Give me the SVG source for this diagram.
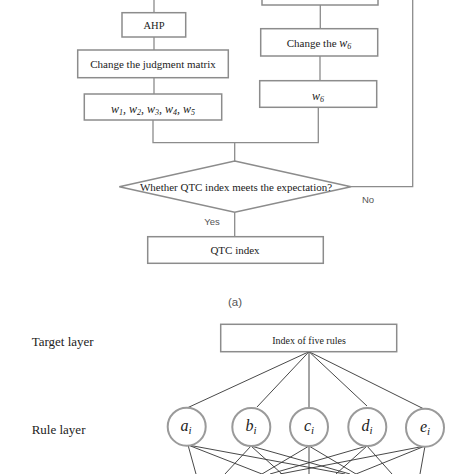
<svg xmlns="http://www.w3.org/2000/svg" width="474" height="474" viewBox="0 0 474 474">
<style>
.box{fill:#fff;stroke:#8c8c8c;stroke-width:1.5}
.fl{fill:none;stroke:#8c8c8c;stroke-width:1.3}
.lt{fill:none;stroke:#333;stroke-width:0.9}
.cir{fill:#fff;stroke:#9a9a9a;stroke-width:2}
.t{font-family:"Liberation Serif","Times New Roman",serif;fill:#222;text-anchor:middle}
.lab{font-family:"Liberation Serif","Times New Roman",serif;fill:#222;text-anchor:start;font-size:13px}
.w{font-family:"Liberation Serif","Times New Roman",serif;font-style:italic;fill:#222;text-anchor:middle}
.s{font-family:"Liberation Sans",Arial,sans-serif;fill:#555;text-anchor:middle}
.m{font-family:"Liberation Serif","Times New Roman",serif;font-style:italic;fill:#222;text-anchor:middle;font-size:16px}
</style>
<rect width="474" height="474" fill="#fff"/>
<g id="connectors">
<path class="fl" d="M154,0V12.7M154,37V50M154,77.7V94M153,120V142.7H318.3V107.3M320.3,5V28.7M320,56V80.7M234.7,142.7V161M234.7,212.3V236.7M351,186.7H412.7V0"/>
<path class="lt" d="M309,351.7L187,408M309,351.7L257,407M309,351.7V407M309,351.7L367,406M309,351.7L424,409"/>
<path class="lt" d="M188,445L196,474M188,445L262,474M188,445L345,474M251,446L225,474M251,446L282,474M251,446L350,474M309,446V474M309,446L262,474M309,446L356,474M367,446L392,474M367,446L336,474M367,446L270,474M425,446L420,474M425,446L356,474M425,446L280,474"/>
</g>
<g id="top-right"><rect class="box" x="262" y="-20" width="116" height="25"/></g>
<g id="ahp"><rect class="box" x="122" y="12.7" width="63.7" height="24.3"/><text class="t" x="154" y="29" font-size="10.5">AHP</text></g>
<g id="judgment"><rect class="box" x="77.7" y="50" width="150.6" height="27.7"/><text class="t" x="153" y="68" font-size="11">Change the judgment matrix</text></g>
<g id="w15"><rect class="box" x="84.3" y="94" width="137.4" height="26"/><text class="w" x="153" y="113" font-size="12">w<tspan font-size="8" dy="2">1</tspan><tspan dy="-2">, w</tspan><tspan font-size="8" dy="2">2</tspan><tspan dy="-2">, w</tspan><tspan font-size="8" dy="2">3</tspan><tspan dy="-2">, w</tspan><tspan font-size="8" dy="2">4</tspan><tspan dy="-2">, w</tspan><tspan font-size="8" dy="2">5</tspan></text></g>
<g id="change-w6"><rect class="box" x="260.7" y="28.7" width="117" height="27.3"/><text class="t" x="319" y="47" font-size="11">Change the <tspan font-style="italic" font-size="12">w</tspan><tspan font-style="italic" font-size="8" dy="2">6</tspan></text></g>
<g id="w6"><rect class="box" x="259.7" y="80.7" width="117" height="26.6"/><text class="w" x="318" y="100" font-size="12">w<tspan font-size="8" dy="2">6</tspan></text></g>
<g id="decision"><polygon class="box" points="234.7,161 351,186.7 234.7,212.3 119.3,186.7"/><text class="t" x="236" y="190.5" font-size="11" textLength="192" lengthAdjust="spacingAndGlyphs">Whether QTC index meets the expectation?</text></g>
<text class="s" x="368" y="203" font-size="9.5">No</text>
<text class="s" x="212" y="225" font-size="9.5">Yes</text>
<g id="qtc"><rect class="box" x="147.7" y="236.7" width="175.6" height="26.6"/><text class="t" x="235" y="254" font-size="11">QTC index</text></g>
<text class="s" x="235" y="305.5" font-size="11.5">(a)</text>
<text class="lab" x="31.7" y="346">Target layer</text>
<text class="lab" x="31.7" y="433.5">Rule layer</text>
<g id="target"><rect class="box" x="220.7" y="324.3" width="176" height="27.4"/><text class="t" x="309" y="344" font-size="10">Index of five rules</text></g>
<g id="a"><circle class="cir" cx="186.7" cy="426.7" r="19"/><text class="m" x="186" y="431">a<tspan font-size="11" dy="3">i</tspan></text></g>
<g id="b"><circle class="cir" cx="251.3" cy="427" r="19"/><text class="m" x="251" y="431">b<tspan font-size="11" dy="3">i</tspan></text></g>
<g id="c"><circle class="cir" cx="309" cy="427" r="19"/><text class="m" x="309" y="431">c<tspan font-size="11" dy="3">i</tspan></text></g>
<g id="d"><circle class="cir" cx="367.3" cy="427" r="19"/><text class="m" x="367" y="431">d<tspan font-size="11" dy="3">i</tspan></text></g>
<g id="e"><circle class="cir" cx="425" cy="427.7" r="19"/><text class="m" x="425" y="432">e<tspan font-size="11" dy="3">i</tspan></text></g>
</svg>
